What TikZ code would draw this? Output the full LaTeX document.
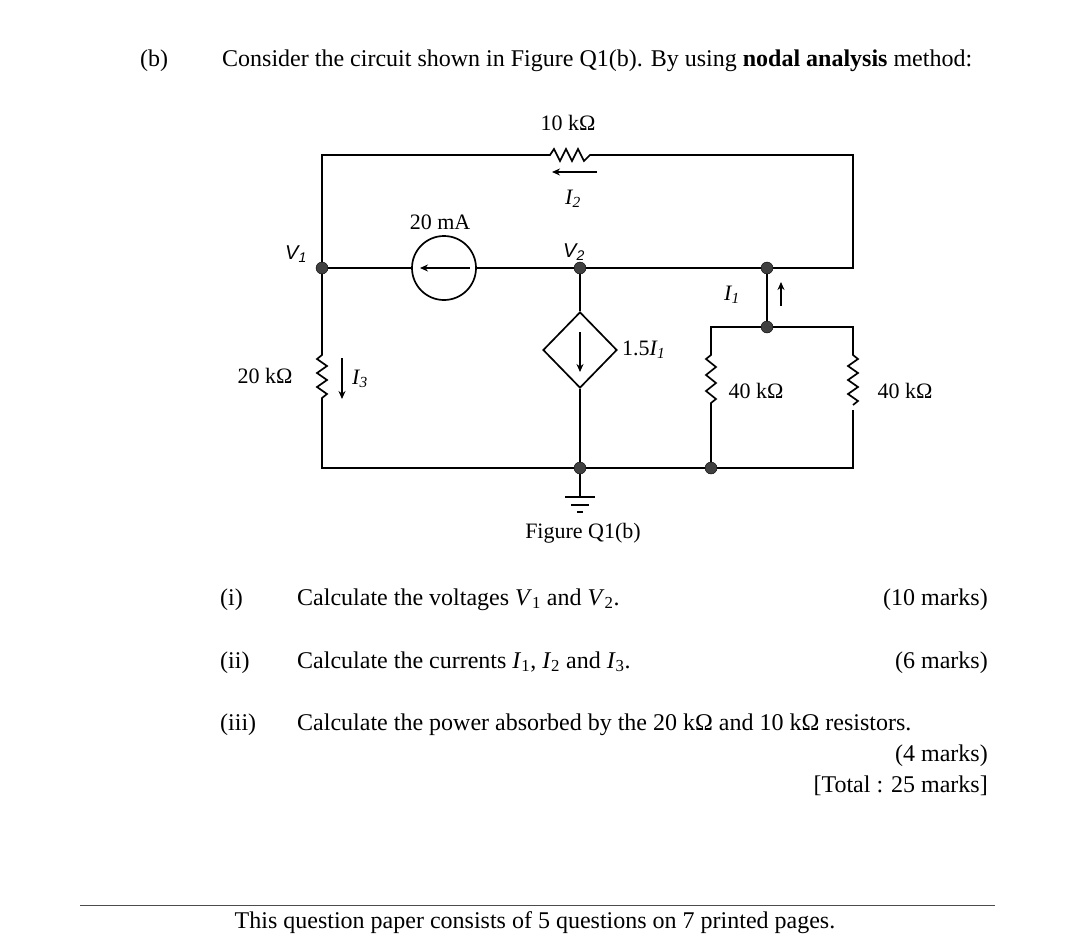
\documentclass[tikz,border=0pt]{standalone}
\usepackage{fontspec}
\setmainfont{Liberation Serif}
\newfontfamily\arialf{Liberation Sans}
\usetikzlibrary{arrows.meta,shapes.geometric}
\begin{document}
\begin{tikzpicture}[x=1pt,y=-1pt,
  wire/.style={line width=1.7pt},
  dot/.style={circle,fill=black!75,draw=black,inner sep=0pt,minimum size=12pt},
  txt/.style={font=\fontsize{24}{28}\selectfont,inner sep=0pt},
  ctxt/.style={font=\fontsize{22}{26}\selectfont,inner sep=0pt},
  vlab/.style={font=\arialf\itshape\fontsize{20}{24}\selectfont,inner sep=0pt},
  arr/.style={line width=1.8pt,-{Stealth[length=8pt,width=7pt]}}]
\useasboundingbox (0,0) rectangle (1080,948);
% header
\node[txt,anchor=base west] (b) at (140,66) {(b)};
\node[txt,anchor=base west] (q) at (222,66) {Consider the circuit shown in Figure Q1(b). By using \textbf{nodal analysis} method:};
% coordinates
\coordinate (tl) at (322,155); \coordinate (tr) at (853,155);
\node[dot] (v1) at (322,268) {};
\node[dot] (v2) at (580,268) {};
\node[dot] (na) at (767,268) {};
\coordinate (mr) at (853,268);
\node[dot] (nb) at (767,327) {};
\coordinate (bl) at (711,327); \coordinate (br) at (853,327);
\coordinate (gl) at (322,468); \coordinate (gr) at (853,468);
\node[dot] (g) at (580,468) {};
\node[dot] (g2) at (711,468) {};
\node[circle,draw,line width=1.7pt,minimum width=64pt,inner sep=0pt] (cs) at (444,268) {};
\node[diamond,draw,line width=1.7pt,minimum width=74pt,minimum height=76pt,inner sep=0pt,shape aspect=1] (ds) at (580,350) {};
% wires and resistors
\draw[wire] (v1) |- (tl) -- (550,155) -- ++(4,-6) -- ++(6,12) -- ++(6,-12) -- ++(6,12) -- ++(6,-12) -- ++(6,12) -- ++(6,-6) -- (tr) -- (mr) -- (na);
\draw[wire] (v1) -- (cs) -- (v2) -- (na) -- (nb);
\draw[wire] (v2) -- (ds.north);
\draw[wire] (ds.south) -- (g);
\draw[wire] (v1) -- (322,355) -- ++(-5,4) -- ++(10,7) -- ++(-10,7) -- ++(10,7) -- ++(-10,7) -- ++(10,7) -- ++(-5,4) -- (gl) -- (g) -- (g2) -- (gr) -- (853,410);
\draw[wire] (nb) -- (br) -- (853,355) -- ++(5,4) -- ++(-10,7) -- ++(10,7) -- ++(-10,7) -- ++(10,7) -- ++(-10,7) -- ++(10,7) -- ++(-5,4);
\draw[wire] (nb) -- (bl) -- (711,355) -- ++(-5,4) -- ++(10,8) -- ++(-10,8) -- ++(10,8) -- ++(-10,8) -- ++(10,8) -- ++(-5,4) -- (g2);
% ground
\draw[wire] (g) -- (580,497);
\draw[wire] (565,497) -- (595,497) (571,505) -- (589,505) (577,512) -- (583,512);
% arrows
\draw[arr] (597,172) -- (552,172);
\draw[arr] (470,268) -- (420,268);
\draw[arr,line width=1.4pt] (580,332) -- (580,372);
\draw[arr,line width=1.4pt] (342,358) -- (342,399);
\draw[arr,line width=1.4pt] (781,306) -- (781,282);
% labels
\node[ctxt] (l10) at (568,123) {10 kΩ};
\node[ctxt] (li2) at (573,199) {\itshape I\textsubscript{2}};
\node[ctxt] (l20m) at (440,222) {20 mA};
\node[vlab] (lv1) at (296,254) {V\textsubscript{1}};
\node[vlab] (lv2) at (574,252) {V\textsubscript{2}};
\node[ctxt] (li1) at (732,295) {\itshape I\textsubscript{1}};
\node[ctxt,anchor=west] (lcc) at (622,350) {1.5\itshape I\textsubscript{1}};
\node[ctxt] (l20k) at (265,376) {20 kΩ};
\node[ctxt] (li3) at (360,379) {\itshape I\textsubscript{3}};
\node[ctxt] (l40a) at (756,391) {40 kΩ};
\node[ctxt] (l40b) at (905,391) {40 kΩ};
\node[ctxt] (fig) at (583,533) {Figure Q1(b)};
% questions
\node[txt,anchor=base west] at (220,605) {(i)};
\node[txt,anchor=base west] at (297,605) {Calculate the voltages \textit{V}\textsubscript{1} and \textit{V}\textsubscript{2}.};
\node[txt,anchor=base east] at (988,605) {(10 marks)};
\node[txt,anchor=base west] at (220,668) {(ii)};
\node[txt,anchor=base west] at (297,668) {Calculate the currents \textit{I}\textsubscript{1}, \textit{I}\textsubscript{2} and \textit{I}\textsubscript{3}.};
\node[txt,anchor=base east] at (988,668) {(6 marks)};
\node[txt,anchor=base west] at (220,730) {(iii)};
\node[txt,anchor=base west] at (297,730) {Calculate the power absorbed by the 20 kΩ and 10 kΩ resistors.};
\node[txt,anchor=base east] at (988,761) {(4 marks)};
\node[txt,anchor=base east] at (988,792) {[Total : 25 marks]};
\draw[line width=0.8pt,black!70] (80,905) -- (995,905);
\node[txt,anchor=base] at (535,928) {This question paper consists of 5 questions on 7 printed pages.};
\end{tikzpicture}
\end{document}
